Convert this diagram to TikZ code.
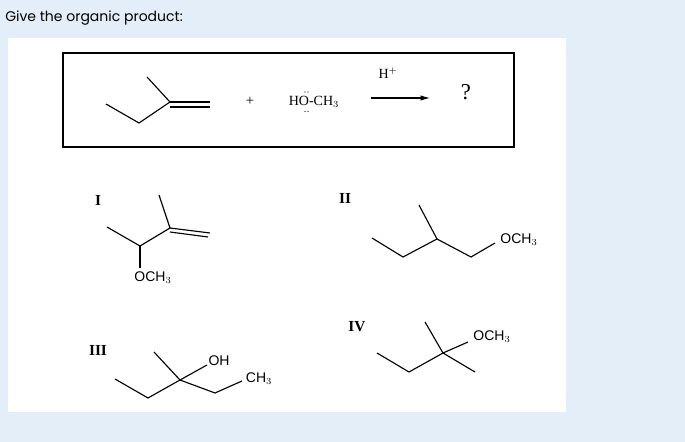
\documentclass[tikz,border=0pt]{standalone}
\usepackage{fontspec}
\usetikzlibrary{arrows.meta}
\setmainfont{Liberation Serif}
\newfontfamily\sansf{Liberation Sans}
\newfontfamily\titlef{Poppins}
\definecolor{bgblue}{HTML}{E3EEF8}
\begin{document}
\begin{tikzpicture}[x=0.75pt,y=-0.75pt,
  bond/.style={line width=0.85pt},
  grp/.style={font=\sansf\fontsize{10.5}{12}\selectfont,inner sep=0pt},
  roman/.style={font=\bfseries\fontsize{11.5}{12}\selectfont,inner sep=0pt}]
\fill[bgblue] (0,0) rectangle (685,442);
\useasboundingbox (0,0) rectangle (685,442);
\fill[white] (8,38) rectangle (566,412);
\node[anchor=west,font=\titlef\fontsize{10.5}{12}\selectfont,inner sep=0pt] (title) at (5,18) {Give the organic product:};
\draw[line width=0.9pt] (63,53) rectangle (514,147);
% reactant
\draw[bond] (106,104) -- (139,123) -- (170,102) -- (147,77);
\draw[bond] (170,102) -- (210,102);
\draw[bond] (170,107) -- (210,107);
\node (plus) at (250,101) {\fontsize{11}{12}\selectfont +};
\node[inner sep=0pt,font=\fontsize{10.5}{12}\selectfont] (meoh) at (314,102) {HO-CH$_3$};
\fill (305,92) circle (0.55) (308,92) circle (0.55) (305,111.5) circle (0.55) (308,111.5) circle (0.55);
\coordinate (a1) at (371,98);
\coordinate (a2) at (430,98);
\draw[-{Latex[length=7pt,width=4pt]},line width=0.8pt] (a1) -- (a2);
\node[font=\fontsize{10.5}{12}\selectfont,inner sep=0pt] (hplus) at (388,73) {H$^+$};
\node[font=\fontsize{17}{19}\selectfont,inner sep=0pt] (q) at (466,92) {?};
% I
\node[roman] (l1) at (98,200) {I};
\draw[bond] (107,227) -- (140,246) -- (170,228) -- (159,195);
\draw[bond] (170,228) -- (210,233);
\draw[bond] (170,232) -- (208,237);
\draw[bond] (140,246) -- (140,268);
\node[grp] (o1) at (153,278) {OCH$_3$};
% II
\node[roman] (l2) at (345,198) {II};
\draw[bond] (372,238) -- (403,257) -- (437,239) -- (471,257) -- (495,243);
\draw[bond] (419,205) -- (437,239);
\node[grp] (o2) at (519,240) {OCH$_3$};
% III
\node[roman] (l3) at (98,350) {III};
\draw[bond] (115,379) -- (148,398) -- (180,380) -- (215,393) -- (242,381);
\draw[bond] (154,352) -- (180,380) -- (207,365);
\node[grp] (oh) at (219,361) {OH};
\node[grp] (c3) at (259,379) {CH$_3$};
% IV
\node[roman] (l4) at (357,327) {IV};
\draw[bond] (377,353) -- (409,372) -- (443,353) -- (475,372);
\draw[bond] (425,322) -- (443,353) -- (468,342);
\node[grp] (o4) at (492,337) {OCH$_3$};
\end{tikzpicture}
\end{document}
